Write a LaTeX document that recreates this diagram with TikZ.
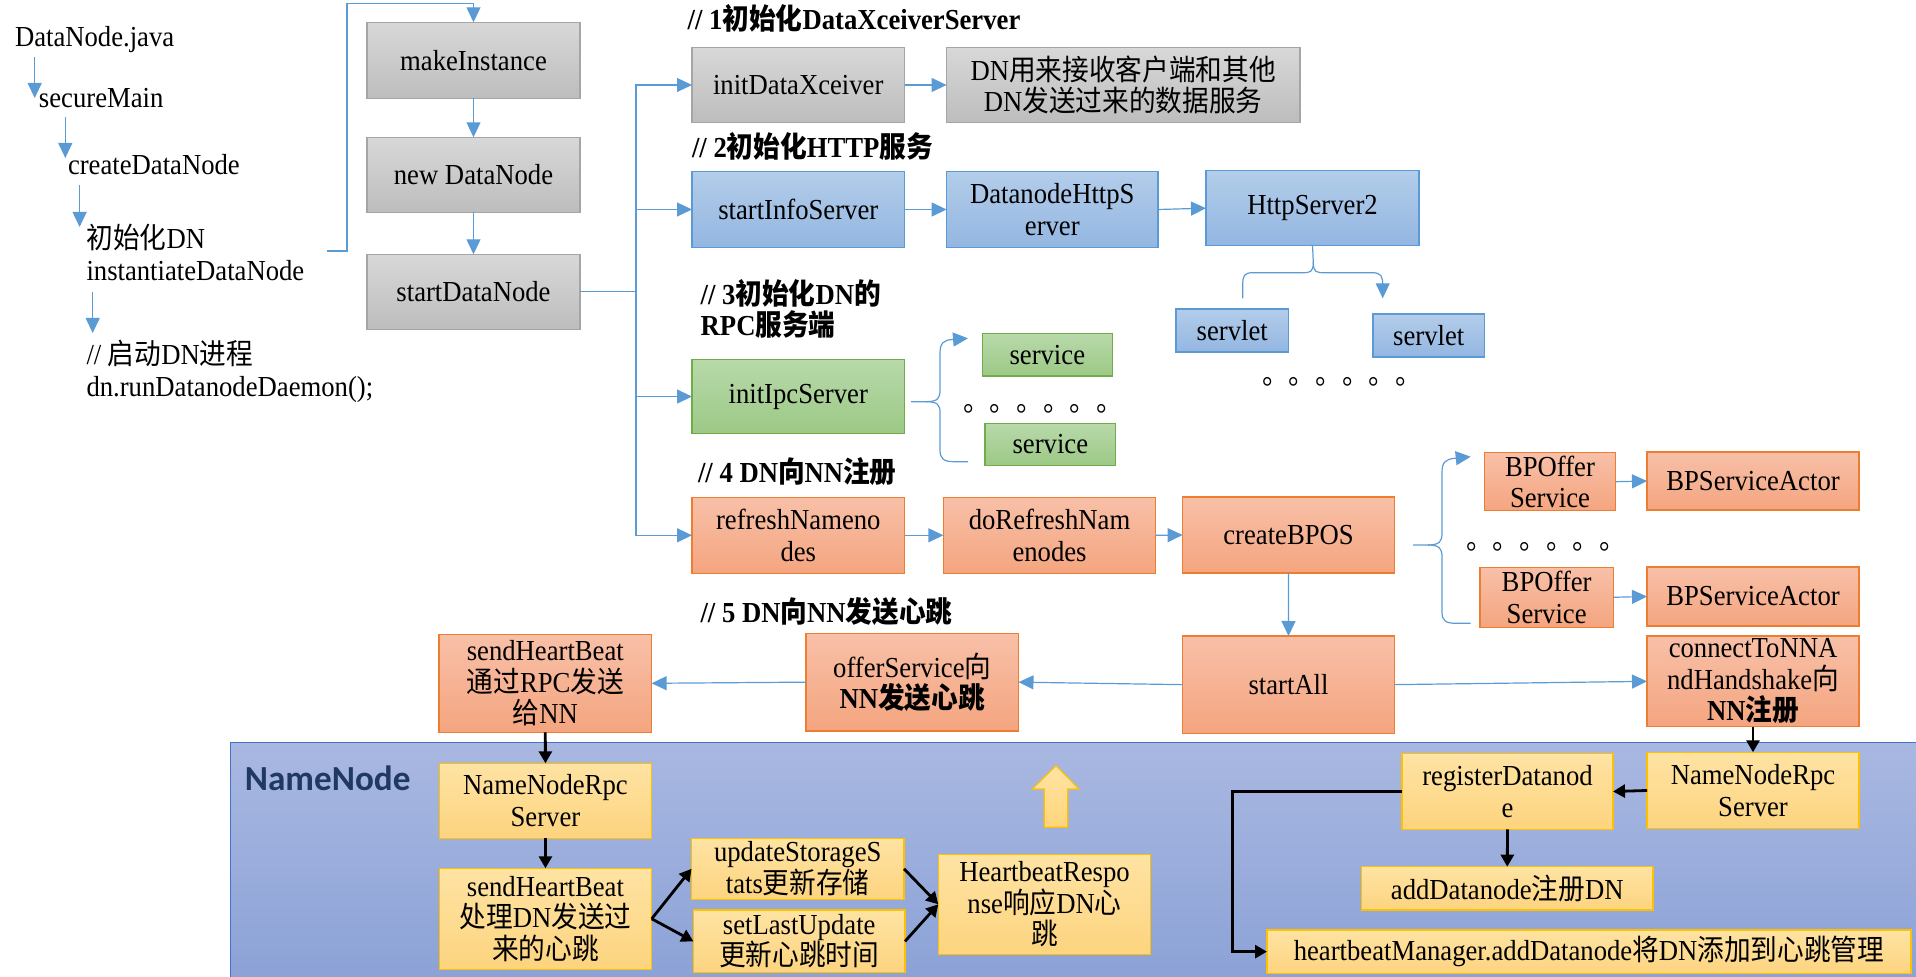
\documentclass[tikz,border=0pt]{standalone}
\usepackage{fontspec}
\setmainfont[FakeStretch=0.92]{Liberation Serif}
\newfontfamily\cjkf[FakeStretch=0.92]{Noto Sans CJK SC}
\newfontfamily\nnfont{Carlito}
\usetikzlibrary{arrows.meta}
\newcommand{\zh}[1]{{\cjkf #1}}
\newcommand{\mybox}[7]{\node[#2, minimum width={(#5-#3)*0.5pt}, minimum height={(#6-#4)*0.5pt}] (#1) at ({(#3+#5)/2},{(#4+#6)/2}) {#7};}
\definecolor{cBlue}{HTML}{5B9BD5}
\definecolor{navy}{HTML}{1F3864}
\tikzset{
  txt/.style={font=\fontsize{14.5}{15.75}\selectfont, inner sep=0pt, outer sep=0pt},
  hd/.style={txt, font=\fontsize{14.5}{15.75}\selectfont\bfseries, anchor=west},
  bxbase/.style={txt, rectangle, align=center, line width=0.6pt},
  graybox/.style={bxbase, draw={rgb,255:red,165;green,165;blue,165}, top color={rgb,255:red,216;green,216;blue,216}, bottom color={rgb,255:red,189;green,189;blue,189}},
  bluebox/.style={bxbase, draw=cBlue, top color={rgb,255:red,179;green,205;blue,234}, bottom color={rgb,255:red,147;green,182;blue,225}},
  greenbox/.style={bxbase, draw={rgb,255:red,112;green,173;blue,71}, top color={rgb,255:red,184;green,217;blue,170}, bottom color={rgb,255:red,156;green,201;blue,134}},
  orangebox/.style={bxbase, draw={rgb,255:red,237;green,125;blue,49}, top color={rgb,255:red,248;green,192;blue,168}, bottom color={rgb,255:red,244;green,165;blue,127}},
  yellowbox/.style={bxbase, draw={rgb,255:red,255;green,192;blue,0}, top color={rgb,255:red,254;green,227;blue,163}, bottom color={rgb,255:red,253;green,212;blue,127}},
  bl/.style={draw=cBlue, line width=0.6pt},
  bla/.style={bl, -{Triangle[length=7.5pt,width=7pt]}},
  blk/.style={draw=black, line width=1.4pt, -{Triangle[length=6pt,width=6.5pt]}},
  dots/.style={txt, anchor=base west}
}
\begin{document}
\begin{tikzpicture}[x=0.5pt, y=-0.5pt]
\useasboundingbox (0,0) rectangle (1916,977);
% NameNode region
\draw[draw={rgb,255:red,68;green,114;blue,196}, line width=0.6pt, top color={rgb,255:red,169;green,184;blue,225}, bottom color={rgb,255:red,138;green,161;blue,214}] (230.4,742.5) rectangle (1930,990);
\node[inner sep=0pt, anchor=west, font=\fontsize{17.6}{20}\selectfont\nnfont\bfseries, text=navy] (nnlabel) at (244.5,778.3) {NameNode};

% left column text
\node[txt, anchor=west] (t1) at (15,40) {DataNode.java};
\node[txt, anchor=west] (t2) at (39,98) {secureMain};
\node[txt, anchor=west] (t3) at (68,165) {createDataNode};
\node[txt, anchor=west, align=left] (t4) at (86.5,252.5) {\zh{初始化}DN\\instantiateDataNode};
\node[txt, anchor=west, align=left] (t5) at (86.5,371.5) {// \zh{启动}DN\zh{进程}\\dn.runDatanodeDaemon();};
\coordinate (a1s) at (34.7,57); \coordinate (a1e) at (34.7,98);
\coordinate (a2s) at (65.3,117); \coordinate (a2e) at (65.3,158);
\coordinate (a3s) at (79.6,185); \coordinate (a3e) at (79.6,227);
\coordinate (a4s) at (92.7,292); \coordinate (a4e) at (92.7,333);
\draw[bla] (a1s) -- (a1e);
\draw[bla] (a2s) -- (a2e);
\draw[bla] (a3s) -- (a3e);
\draw[bla] (a4s) -- (a4e);

% gray column
\mybox{mk}{graybox}{367}{22.3}{580}{98.3}{makeInstance}
\mybox{nd}{graybox}{367}{137.3}{580}{212.3}{new DataNode}
\mybox{sd}{graybox}{367}{254.3}{580}{329.3}{startDataNode}
\coordinate (c0) at (326.5,251);
\draw[bla] (c0) -- (347,251) -- (347,3.3) -| (mk.north);
\draw[bla] (mk.south) -- (nd.north);
\draw[bla] (nd.south) -- (sd.north);

% headings
\node[hd] (h1) at (687.7,18.3) {// 1\zh{初始化}DataXceiverServer};
\node[hd] (h2) at (692,146.7) {// 2\zh{初始化}HTTP\zh{服务}};
\node[hd, align=left] (h3) at (700.7,309) {// 3\zh{初始化}DN\zh{的}\\RPC\zh{服务端}};
\node[hd] (h4) at (698,471.7) {// 4 DN\zh{向}NN\zh{注册}};
\node[hd] (h5) at (700.5,611.7) {// 5 DN\zh{向}NN\zh{发送心跳}};

% row 1
\mybox{idx}{graybox}{692}{47.7}{904.5}{122.3}{initDataXceiver}
\mybox{dnb}{graybox}{946.6}{47.7}{1300}{122.3}{DN\zh{用来接收客户端和其他}\\DN\zh{发送过来的数据服务}}
% row 2
\mybox{sis}{bluebox}{692}{171.7}{904.5}{247.3}{startInfoServer}
\mybox{dhs}{bluebox}{946.6}{171.7}{1158}{247.3}{DatanodeHttpS\\erver}
\mybox{hs2}{bluebox}{1206}{170.7}{1419}{245.7}{HttpServer2}
\mybox{sv1}{bluebox}{1176}{309}{1288.5}{352}{servlet}
\mybox{sv2}{bluebox}{1373}{314}{1484.5}{357}{servlet}
\node[dots] (d1) at (1262,385) {\zh{。。。。。。}};
% row 3
\mybox{ipc}{greenbox}{692}{359.3}{904.5}{433.8}{initIpcServer}
\mybox{se1}{greenbox}{982.3}{333.3}{1112.3}{376}{service}
\mybox{se2}{greenbox}{985}{423.3}{1115.7}{465.3}{service}
\node[dots] (d2) at (963,411.5) {\zh{。。。。。。}};
% row 4
\mybox{rfn}{orangebox}{692}{497.3}{904.6}{573.3}{refreshNameno\\des}
\mybox{drn}{orangebox}{943.4}{497.3}{1155.7}{573.3}{doRefreshNam\\enodes}
\mybox{cbp}{orangebox}{1182.6}{497}{1394.5}{573}{createBPOS}
\mybox{bo1}{orangebox}{1484.3}{452.7}{1615.7}{510.7}{BPOffer\\Service}
\mybox{ba1}{orangebox}{1647}{452}{1859}{510}{BPServiceActor}
\mybox{bo2}{orangebox}{1480}{567.3}{1613.3}{627.3}{BPOffer\\Service}
\mybox{ba2}{orangebox}{1647}{567}{1859}{626}{BPServiceActor}
\node[dots] (d3) at (1466,550) {\zh{。。。。。。}};
% row 5
\mybox{sta}{orangebox}{1182.7}{636}{1394.3}{733.3}{startAll}
\mybox{ofs}{orangebox}{806}{633.3}{1018.5}{731}{offerService\zh{向}\\\textbf{NN\zh{发送心跳}}}
\mybox{shd}{orangebox}{439}{634.3}{651.6}{732.3}{sendHeartBeat\\\zh{通过}RPC\zh{发送}\\\zh{给}NN}
\mybox{ctn}{orangebox}{1647}{636}{1859}{726.7}{connectToNNA\\ndHandshake\zh{向}\\\textbf{NN\zh{注册}}}

% NameNode boxes
\mybox{nrl}{yellowbox}{439.2}{763.3}{651.7}{838.3}{NameNodeRpc\\Server}
\mybox{shn}{yellowbox}{439.2}{868.3}{651.7}{969.3}{sendHeartBeat\\\zh{处理}DN\zh{发送过}\\\zh{来的心跳}}
\mybox{uss}{yellowbox}{691.5}{838.3}{904}{899.3}{updateStorageS\\tats\zh{更新存储}}
\mybox{slu}{yellowbox}{693.4}{910}{905}{972.7}{setLastUpdate\\\zh{更新心跳时间}}
\mybox{hbr}{yellowbox}{938.3}{854.3}{1150.8}{954.3}{HeartbeatRespo\\nse\zh{响应}DN\zh{心}\\\zh{跳}}
\mybox{reg}{yellowbox}{1402}{753.7}{1613}{829.3}{registerDatanod\\e}
\mybox{nrr}{yellowbox}{1647}{752.3}{1859}{828.7}{NameNodeRpc\\Server}
\mybox{add}{yellowbox}{1361.5}{866.7}{1653}{910}{addDatanode\zh{注册}DN}
\mybox{hbm}{yellowbox}{1267}{930}{1911}{973.3}{heartbeatManager.addDatanode\zh{将}DN\zh{添加到心跳管理}}

% up block arrow
\draw[draw={rgb,255:red,255;green,192;blue,0}, line width=0.6pt, top color={rgb,255:red,255;green,228;blue,165}, bottom color={rgb,255:red,255;green,213;blue,122}]
  (1056,765.7) -- (1079,789) -- (1067.7,789) -- (1067.7,827.3) -- (1044.3,827.3) -- (1044.3,789) -- (1032.3,789) -- cycle;

% trunk from startDataNode
\draw[bla] (sd.east) -- (636,291.8) |- (idx.west);
\draw[bla] (sd.east) -- (636,291.8) |- (sis.west);
\draw[bla] (sd.east) -- (636,291.8) |- (ipc.west);
\draw[bla] (sd.east) -- (636,291.8) |- (rfn.west);

\draw[bla] (idx.east) -- (dnb.west);
\draw[bla] (sis.east) -- (dhs.west);
\draw[bla] (dhs.east) -- (hs2.west);
\draw[bla] (rfn.east) -- (drn.west);
\draw[bla] (drn.east) -- (cbp.west);
\draw[bla] (bo1.east) -- (ba1.west);
\draw[bla] (bo2.east) -- (ba2.west);
\draw[bla] (cbp.south) -- (sta.north);
\draw[bla] (sta.west) -- (ofs.east);
\draw[bla] (ofs.west) -- (shd.east);
\draw[bla] (sta.east) -- (ctn.west);

% brace under HttpServer2
\coordinate (hbl) at (1242.7,298.3);
\coordinate (hbr2) at (1382.7,298.3);
\draw[bl] (hs2.south) -- (1313.3,262) .. controls (1313.3,272.7) and (1310,272.7) .. (1302,272.7) -- (1253,272.7) .. controls (1244,272.7) and (1242.7,276) .. (1242.7,285) -- (hbl);
\draw[bla] (1313.3,262) .. controls (1313.3,272.7) and (1316.6,272.7) .. (1324.6,272.7) -- (1372,272.7) .. controls (1381,272.7) and (1382.7,276) .. (1382.7,285) -- (hbr2);

% brace for initIpcServer
\coordinate (ib0) at (911,401.7);
\coordinate (ibt) at (968,338.3);
\coordinate (ibb) at (968,461.7);
\draw[bla] (ib0) -- (926,401.7) .. controls (938,401.7) and (940,398) .. (940,390) -- (940,353) .. controls (940,343) and (944,340) .. (952,339.6) -- (ibt);
\draw[bl] (926,401.7) .. controls (938,401.7) and (940,405) .. (940,413) -- (940,450) .. controls (940,459) and (944,461.7) .. (954,461.7) -- (ibb);

% brace for createBPOS
\coordinate (cb0) at (1413,545);
\coordinate (cbt) at (1470.7,456.7);
\coordinate (cbb) at (1470.7,623.3);
\draw[bla] (cb0) -- (1428,545) .. controls (1440,545) and (1442,541) .. (1442,533) -- (1442,472) .. controls (1442,462) and (1446,459) .. (1455,458.3) -- (cbt);
\draw[bl] (1428,545) .. controls (1440,545) and (1442,549) .. (1442,557) -- (1442,612) .. controls (1442,621) and (1446,623.3) .. (1456,623.3) -- (cbb);

% black arrows
\draw[blk] (shd.south) -- (nrl.north);
\draw[blk] (nrl.south) -- (shn.north);
\draw[blk] (shn.east) -- (uss.west);
\draw[blk] (shn.east) -- (slu.west);
\draw[blk] (uss.east) -- (hbr.west);
\draw[blk] (slu.east) -- (hbr.west);
\draw[blk] (ctn.south) -- (nrr.north);
\draw[blk] (nrr.west) -- (reg.east);
\draw[blk] (reg.south) -- (add.north);
\draw[blk] (reg.west) -- (1232.3,791.5) |- (hbm.west);
\end{tikzpicture}
\end{document}
